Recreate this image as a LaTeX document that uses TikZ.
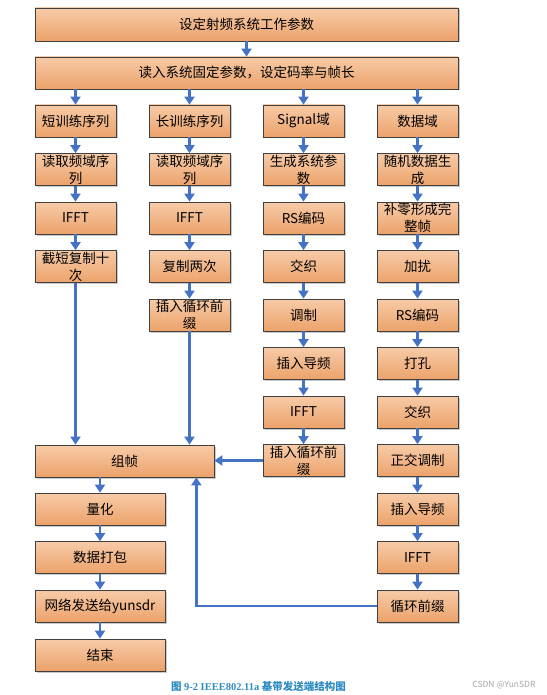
\documentclass[tikz,border=0pt]{standalone}
\usepackage{fontspec}
\setmainfont{Noto Sans CJK SC}
\newfontfamily\capserif{Liberation Serif}
\usetikzlibrary{arrows.meta,shadows}

\definecolor{arrblue}{RGB}{68,114,196}
\definecolor{boxtop}{RGB}{247,203,168}
\definecolor{boxbot}{RGB}{236,162,106}
\definecolor{boxline}{RGB}{64,64,64}
\definecolor{capblue}{RGB}{46,140,192}

\tikzset{every picture/.style={line width=0.75pt}}
\tikzset{
  blk/.style={draw=boxline, top color=boxtop, bottom color=boxbot, minimum width=81pt, minimum height=32pt,
    inner sep=1pt, align=center, font=\fontsize{13.5}{17}\selectfont,
    drop shadow={shadow xshift=1.5pt, shadow yshift=-1.5pt, fill=black!35, opacity=0.6}},
  arr/.style={draw=arrblue, line width=2.4pt, -{Triangle[width=10pt,length=8pt]}, arrblue},
}

\begin{document}
\begin{tikzpicture}[x=1pt,y=1pt,yscale=-1,xscale=1]
\useasboundingbox (0,0) rectangle (546,695);

% top boxes
\node[blk, minimum width=423pt, minimum height=33pt] (p1) at (246.5,24.5) {设定射频系统工作参数};
\node[blk, minimum width=423pt] (p2) at (246.5,73) {读入系统固定参数，设定码率与帧长};

% short training
\node[blk] (s1) at (75.5,121) {短训练序列};
\node[blk] (s2) at (75.5,169.5) {读取频域序\\列};
\node[blk] (s3) at (75.5,218) {IFFT};
\node[blk] (s4) at (75.5,266.5) {截短复制十\\次};

% long training
\node[blk] (l1) at (189.5,121) {长训练序列};
\node[blk] (l2) at (189.5,169.5) {读取频域序\\列};
\node[blk] (l3) at (189.5,218) {IFFT};
\node[blk] (l4) at (189.5,266.5) {复制两次};
\node[blk] (l5) at (189.5,315) {插入循环前\\缀};

% signal field
\node[blk] (g1) at (303.5,121) {Signal域};
\node[blk] (g2) at (303.5,169.5) {生成系统参\\数};
\node[blk] (g3) at (303.5,218) {RS编码};
\node[blk] (g4) at (303.5,266.5) {交织};
\node[blk] (g5) at (303.5,315) {调制};
\node[blk] (g6) at (303.5,363.5) {插入导频};
\node[blk] (g7) at (303.5,412) {IFFT};
\node[blk] (g8) at (303.5,460.5) {插入循环前\\缀};

% data field
\node[blk] (d1) at (417.5,121) {数据域};
\node[blk] (d2) at (417.5,169.5) {随机数据生\\成};
\node[blk] (d3) at (417.5,218) {补零形成完\\整帧};
\node[blk] (d4) at (417.5,266.5) {加扰};
\node[blk] (d5) at (417.5,315) {RS编码};
\node[blk] (d6) at (417.5,363.5) {打孔};
\node[blk] (d7) at (417.5,412) {交织};
\node[blk] (d8) at (417.5,460.5) {正交调制};
\node[blk] (d9) at (417.5,509) {插入导频};
\node[blk] (d10) at (417.5,557.5) {IFFT};
\node[blk] (d11) at (417.5,606) {循环前缀};

% output chain
\node[blk, minimum width=179pt] (zz) at (124.5,461) {组帧};
\node[blk, minimum width=130pt] (q1) at (100,509) {量化};
\node[blk, minimum width=130pt] (q2) at (100,557.5) {数据打包};
\node[blk, minimum width=130pt] (q3) at (100,606) {网络发送给yunsdr};
\node[blk, minimum width=130pt] (q4) at (100,655) {结束};

% arrows
\draw[arr] (p1) -- (p2);
\foreach \c in {s1,l1,g1,d1}
  \draw[arr] (p2.south -| \c) -- (\c);
\foreach \a/\b in {s1/s2,s2/s3,s3/s4,l1/l2,l2/l3,l3/l4,l4/l5,
  g1/g2,g2/g3,g3/g4,g4/g5,g5/g6,g6/g7,g7/g8,
  d1/d2,d2/d3,d3/d4,d4/d5,d5/d6,d6/d7,d7/d8,d8/d9,d9/d10,d10/d11,
  q1/q2,q2/q3,q3/q4}
  \draw[arr] (\a) -- (\b);
\draw[arr] (zz.south -| q1) -- (q1);
\draw[arr] (s4) -- (s4 |- zz.north);
\draw[arr] (l5) -- (l5 |- zz.north);
\draw[arr] (g8.west) -- (g8.west -| zz.east);
\draw[arr] (d11.west) -| ([xshift=-18pt]zz.south east);

% caption
\node[text=capblue, font=\bfseries\fontsize{10.5}{12}\selectfont, inner sep=0pt] (cap) at (258.5,687) {图 {\capserif 9-2 IEEE802.11a} 基带发送端结构图};
\node[anchor=west, text=black!35, font=\fontsize{8.5}{10}\selectfont, inner sep=0pt] (wm) at (472,685) {CSDN @YunSDR};
\end{tikzpicture}
\end{document}
